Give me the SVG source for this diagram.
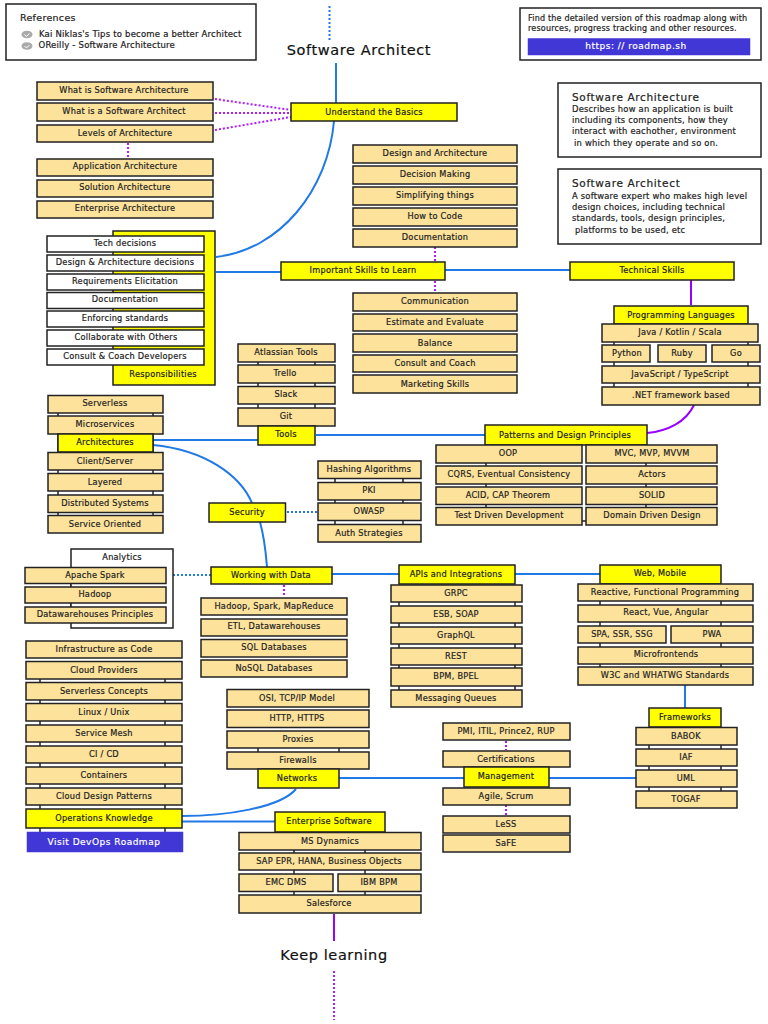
<svg xmlns="http://www.w3.org/2000/svg" width="768" height="1024" viewBox="0 0 768 1024">
<style>
text{font-family:"DejaVu Sans","Liberation Sans",sans-serif;font-size:8.2px;letter-spacing:.25px;fill:#222;stroke:#222;stroke-width:.2px;text-anchor:middle}
.l{text-anchor:start}
.f{font-size:8px;letter-spacing:.2px}
.d{font-size:8.4px;letter-spacing:.2px}
.r{font-size:8.5px;letter-spacing:.2px}
.rh{font-size:9.500px;letter-spacing:.3px}
.h{font-size:10.500px;letter-spacing:.65px}
.big{font-size:14.500px;letter-spacing:.6px;fill:#111;stroke:#111}
.w{font-size:9px;letter-spacing:.5px;fill:#fff;stroke:#fff}
rect{stroke:#222;stroke-width:1.5}
.b{fill:#fde29b}
.y{fill:#ff0}
.n{fill:#fff}
.v{fill:#4136d6;stroke:#4136d6}
.c{fill:none;stroke:#2079e6;stroke-width:2}
.p{fill:none;stroke:#9900ff;stroke-width:2}
.cd{fill:none;stroke:#2079e6;stroke-width:2;stroke-dasharray:2 2}
.pd{fill:none;stroke:#b01cff;stroke-width:2;stroke-dasharray:2 2}
.s{fill:none;stroke:#222;stroke-width:1.5}
</style>
<g id="connectors">
<path class="cd" d="M329.500 6V40"/>
<path class="c" d="M336 63V103"/>
<path class="pd" d="M215 99L291 110M215 113H291M215 130L291 117M128 143V158M435 247V262M435 281V292M284 585V596M506 741V750M506 805V815"/>
<path class="pd" d="M334 971V1020"/>
<path class="c" d="M334 121C328 190 280 250 216 257"/>
<path class="c" d="M216 272L282 272M445 270H570M316 435L485 435M153 440H258M332 574H399M515 574H600M685 685V708M339 778H464M549 778H636M182 821.500H275"/>
<path class="c" d="M153 445C205 450 240 475 252 503M260 522C265 540 266 555 267 567"/>
<path class="c" d="M182 816C225 816 280 808 296 789"/>
<path class="cd" d="M287 512H317M173 575H211"/>
<path class="p" d="M691 280V305M694 405C686 422 668 431 647 433M334 914V941"/>
<path class="s" d="M258 362V426M315 362V426M58 413V515M153 413V515M614 324V387M748 324V387M486 463V507M646 463V507M582 521H586M335 478V524M403 478V524M600 601V667M721 601V667M399 602V690M515 602V690M649 745V791M721 745V791M294 850V895M365 850V895M40 679V832M165 679V832M258 748V769M339 748V769M71 583V607"/>
</g>
<g id="references"><rect class="n" x="6" y="4" width="250" height="56"/><text class="l rh" x="20" y="20.500">References</text><ellipse cx="27" cy="34.500" rx="5.500" ry="3.800" fill="#aaa"/><path d="M24.500 34.500l2 2 3-3" fill="none" stroke="#fff"/><text class="l r" x="39" y="36.500">Kai Niklas's Tips to become a better Architect</text><ellipse cx="27" cy="46" rx="5.500" ry="3.800" fill="#aaa"/><path d="M24.500 46l2 2 3-3" fill="none" stroke="#fff"/><text class="l r" x="38.500" y="47.500">OReilly - Software Architecture</text></g>
<g id="title"><text class="big" x="359" y="55">Software Architect</text></g>
<g id="roadmap"><rect class="n" x="520" y="8" width="241" height="52"/><text class="l f" x="528" y="20.500">Find the detailed version of this roadmap along with</text><text class="l f" x="528" y="31">resources, progress tracking and other resources.</text><rect class="v" x="528.500" y="39" width="221" height="15.500"/><text class="w" x="636" y="49">https: // roadmap.sh</text></g>
<g id="def-arch"><rect class="n" x="558" y="83" width="203" height="74"/><text class="l h" x="572" y="101">Software Architecture</text><text class="l d" x="572" y="112">Describes how an application is built</text><text class="l d" x="572" y="123">including its components, how they</text><text class="l d" x="572" y="134">interact with eachother, environment</text><text class="l d" x="574" y="146">in which they operate and so on.</text></g>
<g id="def-architect"><rect class="n" x="558" y="169" width="203" height="75"/><text class="l h" x="572" y="187">Software Architect</text><text class="l d" x="572" y="199">A software expert who makes high level</text><text class="l d" x="572" y="210">design choices, including technical</text><text class="l d" x="572" y="221">standards, tools, design principles,</text><text class="l d" x="575" y="233">platforms to be used, etc</text></g>
<g id="understand"><rect class="y" x="291" y="103" width="166" height="18"/><text x="374" y="114.500">Understand the Basics</text></g>
<g id="b1"><rect class="b" x="37" y="82" width="176" height="18"/><text x="124" y="92.700">What is Software Architecture</text></g>
<g id="b2"><rect class="b" x="37" y="103" width="176" height="18"/><text x="124" y="113.700">What is a Software Architect</text></g>
<g id="b3"><rect class="b" x="37" y="125" width="176" height="17"/><text x="125" y="135.500">Levels of Architecture</text></g>
<g id="b4"><rect class="b" x="37" y="159" width="176" height="17"/><text x="125" y="169">Application Architecture</text></g>
<g id="b5"><rect class="b" x="37" y="180" width="176" height="17"/><text x="125" y="190">Solution Architecture</text></g>
<g id="b6"><rect class="b" x="37" y="201" width="176" height="17"/><text x="125" y="211">Enterprise Architecture</text></g>
<g id="responsibilities"><rect class="y" x="113" y="231" width="102" height="154"/><text x="163" y="377">Responsibilities</text></g>
<g id="r1"><rect class="n" x="47" y="236" width="157" height="16"/><text x="125" y="246">Tech decisions</text></g>
<g id="r2"><rect class="n" x="47" y="255" width="157" height="16"/><text x="125" y="264.500">Design &amp; Architecture decisions</text></g>
<g id="r3"><rect class="n" x="47" y="274" width="157" height="16"/><text x="125" y="283.500">Requirements Elicitation</text></g>
<g id="r4"><rect class="n" x="47" y="292.500" width="157" height="16"/><text x="125" y="302">Documentation</text></g>
<g id="r5"><rect class="n" x="47" y="311" width="157" height="16"/><text x="125" y="321">Enforcing standards</text></g>
<g id="r6"><rect class="n" x="47" y="330" width="157" height="16"/><text x="126" y="340">Collaborate with Others</text></g>
<g id="r7"><rect class="n" x="47" y="349" width="157" height="16"/><text x="125" y="359">Consult &amp; Coach Developers</text></g>
<g id="s1"><rect class="b" x="353" y="145" width="164" height="18"/><text x="435" y="156">Design and Architecture</text></g>
<g id="s2"><rect class="b" x="353" y="166" width="164" height="18"/><text x="435" y="177">Decision Making</text></g>
<g id="s3"><rect class="b" x="353" y="187" width="164" height="18"/><text x="435" y="198">Simplifying things</text></g>
<g id="s4"><rect class="b" x="353" y="208" width="164" height="18"/><text x="435" y="219">How to Code</text></g>
<g id="s5"><rect class="b" x="353" y="229" width="164" height="18"/><text x="435" y="239.500">Documentation</text></g>
<g id="skills"><rect class="y" x="281" y="262" width="164" height="18"/><text x="363" y="272.500">Important Skills to Learn</text></g>
<g id="s6"><rect class="b" x="353" y="293" width="164" height="18"/><text x="435" y="304">Communication</text></g>
<g id="s7"><rect class="b" x="353" y="314" width="164" height="17"/><text x="435" y="324.500">Estimate and Evaluate</text></g>
<g id="s8"><rect class="b" x="353" y="334" width="164" height="18"/><text x="435" y="345.500">Balance</text></g>
<g id="s9"><rect class="b" x="353" y="355" width="164" height="17"/><text x="435" y="365.500">Consult and Coach</text></g>
<g id="s10"><rect class="b" x="353" y="375" width="164" height="18"/><text x="435" y="386.500">Marketing Skills</text></g>
<g id="technical"><rect class="y" x="570" y="262" width="164" height="18"/><text x="652" y="272.500">Technical Skills</text></g>
<g id="proglang"><rect class="y" x="614" y="306" width="134" height="18"/><text x="681" y="317.500">Programming Languages</text></g>
<g id="p1"><rect class="b" x="602" y="324" width="156" height="18"/><text x="680" y="335">Java / Kotlin / Scala</text></g>
<g id="p2"><rect class="b" x="602" y="345" width="48" height="17"/><text x="627" y="356">Python</text></g>
<g id="p3"><rect class="b" x="658" y="345" width="48" height="17"/><text x="682" y="356">Ruby</text></g>
<g id="p4"><rect class="b" x="712" y="345" width="48" height="17"/><text x="736" y="356">Go</text></g>
<g id="p5"><rect class="b" x="602" y="366" width="158" height="17"/><text x="680" y="377">JavaScript / TypeScript</text></g>
<g id="p6"><rect class="b" x="602" y="387" width="158" height="18"/><text x="681" y="398">.NET framework based</text></g>
<g id="patterns"><rect class="y" x="485" y="425" width="162" height="20"/><text x="565" y="437.500">Patterns and Design Principles</text></g>
<g id="d1"><rect class="b" x="436" y="445" width="146" height="18"/><text x="508" y="455.500">OOP</text></g>
<g id="d2"><rect class="b" x="436" y="466" width="146" height="18"/><text x="509" y="477">CQRS, Eventual Consistency</text></g>
<g id="d3"><rect class="b" x="436" y="487" width="146" height="17.500"/><text x="508" y="497.500">ACID, CAP Theorem</text></g>
<g id="d4"><rect class="b" x="436" y="507.500" width="146" height="17.500"/><text x="509" y="518">Test Driven Development</text></g>
<g id="d5"><rect class="b" x="586" y="445" width="131" height="18"/><text x="652" y="456">MVC, MVP, MVVM</text></g>
<g id="d6"><rect class="b" x="586" y="466" width="131" height="18"/><text x="652" y="477">Actors</text></g>
<g id="d7"><rect class="b" x="586" y="487" width="131" height="17.500"/><text x="652" y="497.500">SOLID</text></g>
<g id="d8"><rect class="b" x="586" y="507.500" width="131" height="17.500"/><text x="652" y="518">Domain Driven Design</text></g>
<g id="t1"><rect class="b" x="238" y="344" width="97" height="18"/><text x="286" y="355">Atlassian Tools</text></g>
<g id="t2"><rect class="b" x="238" y="365" width="97" height="18"/><text x="285" y="376">Trello</text></g>
<g id="t3"><rect class="b" x="238" y="386.500" width="97" height="17.500"/><text x="286" y="397">Slack</text></g>
<g id="t4"><rect class="b" x="238" y="408" width="97" height="18"/><text x="286" y="419">Git</text></g>
<g id="tools"><rect class="y" x="258" y="426" width="57" height="19"/><text x="286" y="437">Tools</text></g>
<g id="a1"><rect class="b" x="48" y="395.500" width="115" height="17.500"/><text x="105" y="406">Serverless</text></g>
<g id="a2"><rect class="b" x="48" y="416" width="115" height="18"/><text x="105" y="427">Microservices</text></g>
<g id="architectures"><rect class="y" x="58" y="434" width="95" height="18"/><text x="105" y="444.500">Architectures</text></g>
<g id="a3"><rect class="b" x="48" y="452.500" width="115" height="17.500"/><text x="105" y="463.500">Client/Server</text></g>
<g id="a4"><rect class="b" x="48" y="473.500" width="115" height="17.500"/><text x="105" y="484.500">Layered</text></g>
<g id="a5"><rect class="b" x="48" y="495" width="115" height="17.500"/><text x="105" y="505.500">Distributed Systems</text></g>
<g id="a6"><rect class="b" x="48" y="515.500" width="115" height="17.500"/><text x="105" y="526.500">Service Oriented</text></g>
<g id="security"><rect class="y" x="209" y="503" width="76.500" height="19"/><text x="247" y="514.500">Security</text></g>
<g id="h1"><rect class="b" x="318" y="461" width="103" height="17.500"/><text x="369" y="472">Hashing Algorithms</text></g>
<g id="h2"><rect class="b" x="318" y="482.500" width="103" height="17.500"/><text x="369" y="493">PKI</text></g>
<g id="h3"><rect class="b" x="318" y="503" width="103" height="17.500"/><text x="369" y="514">OWASP</text></g>
<g id="h4"><rect class="b" x="318" y="524.500" width="103" height="17.500"/><text x="369" y="535.500">Auth Strategies</text></g>
<g id="analytics"><rect class="n" x="71" y="549" width="102" height="79"/><text x="122" y="560">Analytics</text></g>
<g id="an1"><rect class="b" x="25" y="567.500" width="141" height="16"/><text x="95" y="577.500">Apache Spark</text></g>
<g id="an2"><rect class="b" x="25" y="587" width="141" height="16"/><text x="95" y="597">Hadoop</text></g>
<g id="an3"><rect class="b" x="25" y="607" width="141" height="16"/><text x="95" y="617">Datawarehouses Principles</text></g>
<g id="data"><rect class="y" x="211" y="567" width="121" height="17"/><text x="271" y="577.500">Working with Data</text></g>
<g id="w1"><rect class="b" x="201" y="598" width="146" height="17"/><text x="274" y="609">Hadoop, Spark, MapReduce</text></g>
<g id="w2"><rect class="b" x="201" y="619" width="146" height="17"/><text x="274" y="629">ETL, Datawarehouses</text></g>
<g id="w3"><rect class="b" x="201" y="639.500" width="146" height="17.500"/><text x="274" y="650">SQL Databases</text></g>
<g id="w4"><rect class="b" x="201" y="660" width="146" height="17"/><text x="274" y="670.500">NoSQL Databases</text></g>
<g id="apis"><rect class="y" x="399" y="565" width="116" height="19"/><text x="456" y="577">APIs and Integrations</text></g>
<g id="i1"><rect class="b" x="391" y="585" width="131" height="17"/><text x="456" y="596">GRPC</text></g>
<g id="i2"><rect class="b" x="391" y="606" width="131" height="17"/><text x="456" y="617">ESB, SOAP</text></g>
<g id="i3"><rect class="b" x="391" y="627" width="131" height="17"/><text x="456" y="638">GraphQL</text></g>
<g id="i4"><rect class="b" x="391" y="648" width="131" height="17"/><text x="456" y="658.500">REST</text></g>
<g id="i5"><rect class="b" x="391" y="668" width="131" height="18"/><text x="456" y="679">BPM, BPEL</text></g>
<g id="i6"><rect class="b" x="391" y="690" width="131" height="17"/><text x="456" y="700.500">Messaging Queues</text></g>
<g id="web"><rect class="y" x="600" y="565" width="121" height="19"/><text x="660" y="576">Web, Mobile</text></g>
<g id="m1"><rect class="b" x="578" y="584" width="175" height="17"/><text x="665" y="594.500">Reactive, Functional Programming</text></g>
<g id="m2"><rect class="b" x="578" y="605" width="175" height="17"/><text x="666" y="615">React, Vue, Angular</text></g>
<g id="m3"><rect class="b" x="578" y="626" width="88" height="17"/><text x="622" y="637">SPA, SSR, SSG</text></g>
<g id="m4"><rect class="b" x="671" y="626" width="82" height="17"/><text x="712" y="637">PWA</text></g>
<g id="m5"><rect class="b" x="578" y="647" width="175" height="17"/><text x="666" y="657">Microfrontends</text></g>
<g id="m6"><rect class="b" x="578" y="667" width="175" height="18"/><text x="665" y="678">W3C and WHATWG Standards</text></g>
<g id="frameworks"><rect class="y" x="649" y="708" width="72" height="19"/><text x="685" y="719.500">Frameworks</text></g>
<g id="f1"><rect class="b" x="636" y="727.500" width="101" height="17.500"/><text x="686" y="738.500">BABOK</text></g>
<g id="f2"><rect class="b" x="636" y="749" width="101" height="17"/><text x="686" y="759.500">IAF</text></g>
<g id="f3"><rect class="b" x="636" y="770" width="101" height="17"/><text x="686" y="781">UML</text></g>
<g id="f4"><rect class="b" x="636" y="791" width="101" height="17"/><text x="686" y="801.500">TOGAF</text></g>
<g id="g1"><rect class="b" x="443" y="723" width="127" height="17"/><text x="506" y="733.500">PMI, ITIL, Prince2, RUP</text></g>
<g id="g2"><rect class="b" x="443" y="751" width="127" height="16"/><text x="506" y="761.500">Certifications</text></g>
<g id="management"><rect class="y" x="464" y="767" width="85" height="20"/><text x="506" y="779">Management</text></g>
<g id="g3"><rect class="b" x="443" y="788" width="127" height="17"/><text x="506" y="798.500">Agile, Scrum</text></g>
<g id="g4"><rect class="b" x="443" y="816" width="127" height="17"/><text x="506" y="826.500">LeSS</text></g>
<g id="g5"><rect class="b" x="443" y="835" width="127" height="17"/><text x="506" y="845.500">SaFE</text></g>
<g id="o1"><rect class="b" x="26" y="641" width="156" height="17"/><text x="104" y="651.500">Infrastructure as Code</text></g>
<g id="o2"><rect class="b" x="26" y="661.500" width="156" height="17.500"/><text x="104" y="672.500">Cloud Providers</text></g>
<g id="o3"><rect class="b" x="26" y="682.500" width="156" height="17.500"/><text x="104" y="693.500">Serverless Concepts</text></g>
<g id="o4"><rect class="b" x="26" y="703.500" width="156" height="17.500"/><text x="104" y="714.500">Linux / Unix</text></g>
<g id="o5"><rect class="b" x="26" y="725" width="156" height="17"/><text x="104" y="735.500">Service Mesh</text></g>
<g id="o6"><rect class="b" x="26" y="746" width="156" height="17"/><text x="104" y="756.500">CI / CD</text></g>
<g id="o7"><rect class="b" x="26" y="767" width="156" height="17"/><text x="104" y="777.500">Containers</text></g>
<g id="o8"><rect class="b" x="26" y="788" width="156" height="17"/><text x="104" y="798.500">Cloud Design Patterns</text></g>
<g id="operations"><rect class="y" x="26" y="809" width="156" height="19"/><text x="104" y="820.500">Operations Knowledge</text></g>
<g id="devops"><rect class="v" x="27.500" y="832.500" width="155" height="19"/><text class="w" x="104" y="844.500">Visit DevOps Roadmap</text></g>
<g id="n1"><rect class="b" x="227" y="689.500" width="142" height="17.500"/><text x="297" y="700.500">OSI, TCP/IP Model</text></g>
<g id="n2"><rect class="b" x="227" y="710" width="142" height="17.500"/><text x="297" y="720.500">HTTP, HTTPS</text></g>
<g id="n3"><rect class="b" x="227" y="731" width="142" height="17"/><text x="298" y="741.500">Proxies</text></g>
<g id="n4"><rect class="b" x="227" y="752" width="142" height="17"/><text x="298" y="762.500">Firewalls</text></g>
<g id="networks"><rect class="y" x="258" y="769" width="81" height="19"/><text x="297" y="780.500">Networks</text></g>
<g id="enterprise"><rect class="y" x="275" y="812" width="110" height="20"/><text x="329" y="824">Enterprise Software</text></g>
<g id="e1"><rect class="b" x="239" y="832.500" width="182" height="17.500"/><text x="330" y="843.500">MS Dynamics</text></g>
<g id="e2"><rect class="b" x="239" y="853" width="182" height="17"/><text x="329" y="863.500">SAP EPR, HANA, Business Objects</text></g>
<g id="e3"><rect class="b" x="239" y="874" width="94" height="17.500"/><text x="286" y="884.500">EMC DMS</text></g>
<g id="e4"><rect class="b" x="338" y="874" width="83" height="17.500"/><text x="379" y="884.500">IBM BPM</text></g>
<g id="e5"><rect class="b" x="239" y="895" width="182" height="18"/><text x="329" y="906">Salesforce</text></g>
<g id="keep"><text class="big" x="334" y="960">Keep learning</text></g>
</svg>
